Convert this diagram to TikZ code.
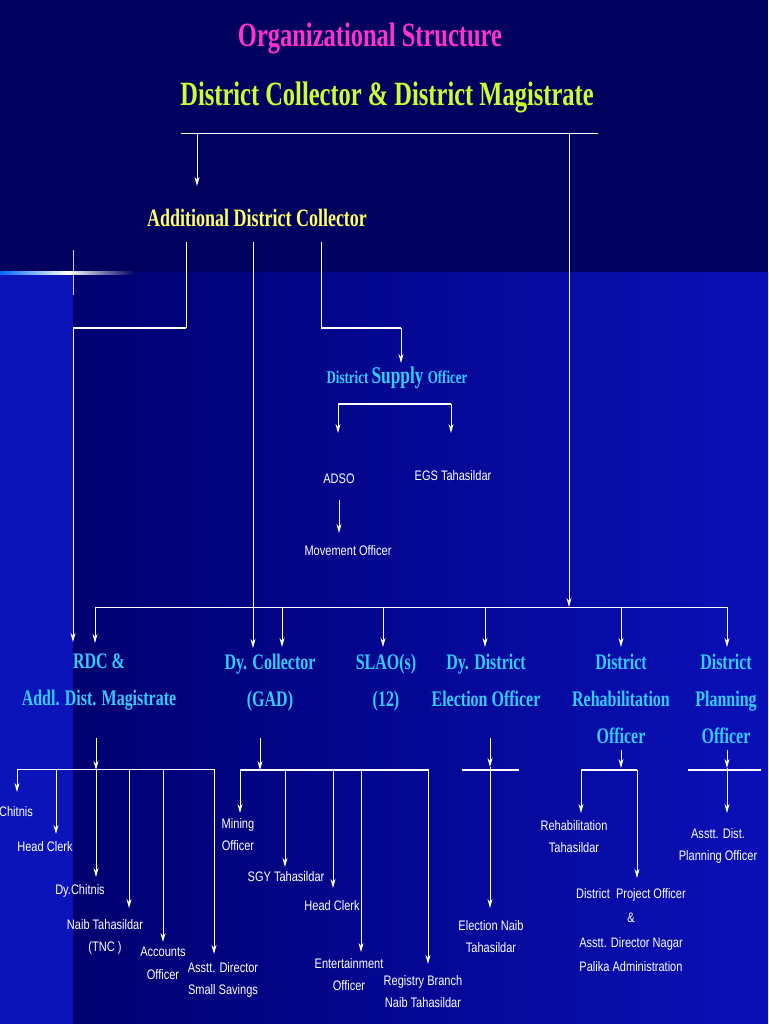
\documentclass[tikz,border=0pt]{standalone}
\usepackage{fontspec}
\usetikzlibrary{arrows.meta}
\newfontfamily\tfont{Liberation Serif}[FakeStretch=0.72]
\newfontfamily\sfont{Liberation Sans}[FakeStretch=0.8]
\definecolor{bgtop}{HTML}{00005E}
\definecolor{bgl}{HTML}{000070}
\definecolor{bgr}{HTML}{0A10B8}
\definecolor{strip}{HTML}{0A14B8}
\definecolor{mag}{HTML}{FF33CC}
\definecolor{lime}{HTML}{CCFF33}
\definecolor{yel}{HTML}{FFFF66}
\definecolor{cy}{HTML}{33CCFF}
\tikzset{
  big/.style={font=\tfont\bfseries\fontsize{34}{38}\selectfont, inner sep=0pt},
  mid/.style={text=cy, font=\tfont\bfseries\fontsize{22.2}{37}\selectfont, align=center, inner sep=0pt, anchor=north},
  small/.style={text=white, font=\sfont\fontsize{13.8}{22.5}\selectfont, align=center, inner sep=0pt, anchor=north},
  ln/.style={draw=white, line width=0.9pt},
  bus/.style={draw=white, line width=2pt},
  arr/.style={ln, -{Stealth[length=9pt,width=5pt]}}
}
\begin{document}
\begin{tikzpicture}[x=1pt,y=-1pt]
\useasboundingbox (0,0) rectangle (768,1024);
\fill[bgtop] (0,0) rectangle (768,272);
\shade[left color=bgl, right color=bgr] (73,272) rectangle (768,1024);
\fill[strip] (0,272) rectangle (73,1024);
% glow
\shade[left color=blue!60!cyan, right color=bgtop, middle color=white] (0,271) rectangle (135,274);
\fill[white, opacity=0.8] (72.5,250) rectangle (73.5,295);

\node[big, text=mag] (t1) at (370,38) {Organizational Structure};
\node[big, text=lime] (t2) at (387,97) {District Collector \& District Magistrate};
\node[text=yel, font=\tfont\bfseries\fontsize{25}{28}\selectfont, inner sep=0pt] (adc) at (257,218) {Additional District Collector};
\node[text=cy, inner sep=0pt, font=\tfont\bfseries] (dso) at (397,378) {\fontsize{18}{20}\selectfont District \fontsize{24}{20}\selectfont Supply \fontsize{18}{20}\selectfont Officer};

\coordinate (dcl) at (181,133); \coordinate (dcr) at (598,133);
\draw[ln] (dcl) -- (dcr);
\draw[arr] (197,133) -- (197,186);
\draw[arr] (569,133) -- (569,607);

% ADC branches
\draw[ln] (186,242) -- (186,328);
\draw[bus, line width=1.5pt] (186,328) -- (73,328);
\draw[arr] (73,328) -- (73,642);
\draw[arr] (253,242) -- (253,648);
\draw[ln] (321,242) -- (321,328);
\draw[bus, line width=1.5pt] (321,328) -- (401,328);
\draw[arr] (401,328) -- (401,363);

% DSO
\draw[bus, line width=1.5pt] (338,404) -- (451,404);
\draw[arr] (338,404) -- (338,433);
\draw[arr] (451,404) -- (451,433);
\node[small] (adso) at (339,474) {ADSO};
\node[small] (egs) at (453,470) {EGS Tahasildar};
\draw[arr] (339,500) -- (339,533);
\node[small] (mov) at (348,545) {Movement Officer};

% main bus
\draw[ln] (95,607) -- (727,607);
\foreach \x/\t in {95/643,282/647,383/647,485/647,621/647,727/647}
  \draw[arr] (\x,607) -- (\x,\t);

\node[mid] (rdc) at (99,654) {RDC \&\\Addl. Dist. Magistrate};
\node[mid] (dyc) at (270,654) {Dy. Collector\\(GAD)};
\node[mid] (slao) at (386,654) {SLAO(s)\\(12)};
\node[mid] (deo) at (486,654) {Dy. District\\Election Officer};
\node[mid] (dro) at (621,654) {District\\Rehabilitation\\Officer};
\node[mid] (dpo) at (726,654) {District\\Planning\\Officer};

% RDC sub
\draw[arr] (96,738) -- (96,770);
\draw[ln] (17,769) -- (214,769);
\foreach \x/\t in {17/792,56/834,96/877,129/908,163/942,214/954}
  \draw[arr] (\x,769) -- (\x,\t);
\node[small] at (16,806) {Chitnis};
\node[small] at (45,841) {Head Clerk};
\node[small] at (80,884) {Dy.Chitnis};
\node[small] at (105,919) {Naib Tahasildar\\(TNC )};
\node[small] at (163,947) {Accounts\\Officer};
\node[small] at (223,962) {Asstt. Director\\Small Savings};

% GAD sub
\draw[arr] (260,738) -- (260,770);
\draw[bus] (240,770) -- (429,770);
\foreach \x/\t in {240/813,285/867,333/888,361/952,428/964}
  \draw[arr] (\x,770) -- (\x,\t);
\node[small] at (238,818) {Mining\\Officer};
\node[small] at (286,871) {SGY Tahasildar};
\node[small] at (332,900) {Head Clerk};
\node[small] at (349,958) {Entertainment\\Officer};
\node[small] at (423,975) {Registry Branch\\Naib Tahasildar};

% Election sub
\draw[bus] (462,770) -- (519,770);
\draw[arr] (490,738) -- (490,767);
\draw[arr] (490,767) -- (490,908);
\node[small] at (491,920) {Election Naib\\Tahasildar};

% Rehab sub
\draw[bus] (581,770) -- (637,770);
\draw[arr] (621,750) -- (621,768);
\draw[arr] (581,770) -- (581,813);
\draw[arr] (637,770) -- (637,878);
\node[small] at (574,820) {Rehabilitation\\Tahasildar};
\node[small, font=\sfont\fontsize{13.8}{24.5}\selectfont] at (631,888) {District\ \ Project Officer\\\&\\Asstt. Director Nagar\\Palika Administration};

% Planning sub
\draw[bus] (688,770) -- (761,770);
\draw[arr] (727,750) -- (727,768);
\draw[arr] (727,768) -- (727,813);
\node[small] at (718,828) {Asstt. Dist.\\Planning Officer};
\end{tikzpicture}
\end{document}
